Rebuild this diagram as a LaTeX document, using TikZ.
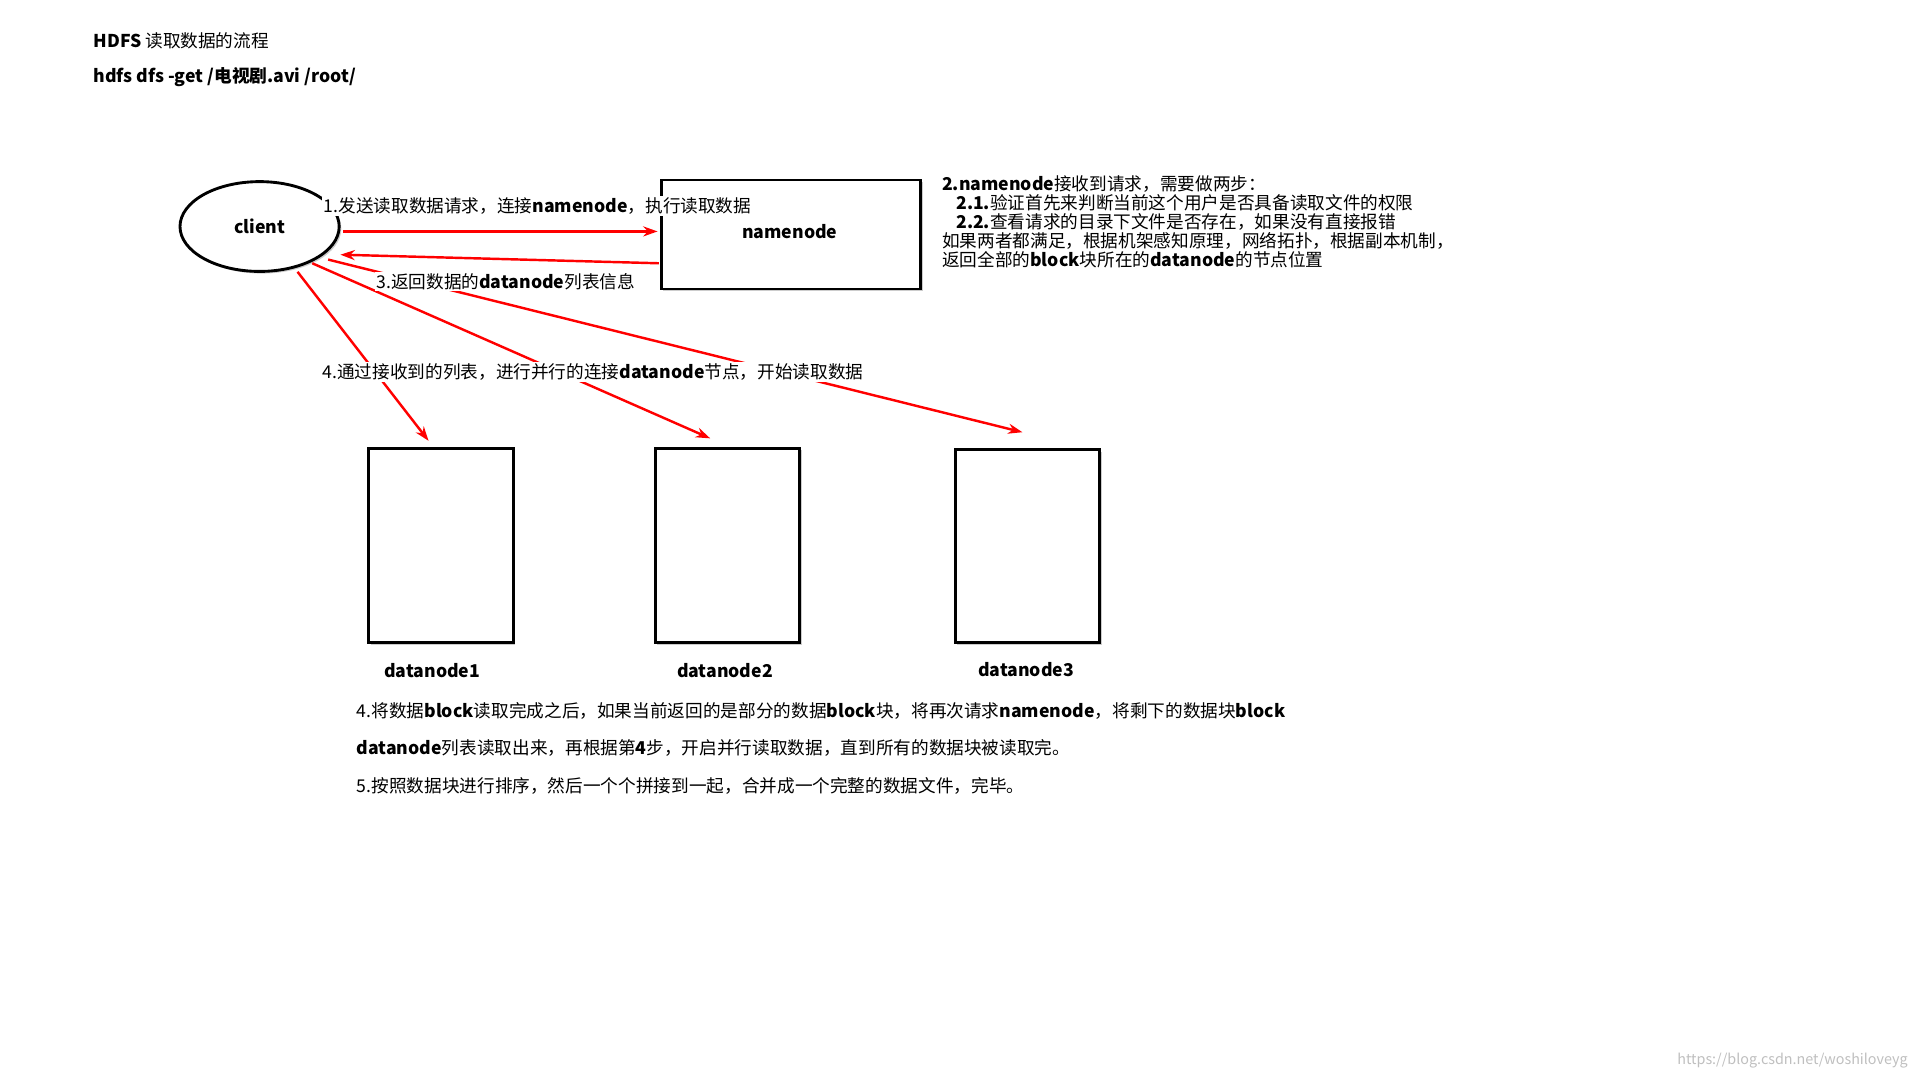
\documentclass[tikz,border=0pt]{standalone}
\usepackage{fontspec}
\setmainfont{Noto Sans CJK SC}
\usetikzlibrary{shadows,arrows.meta,shapes.geometric}

\begin{document}
\begin{tikzpicture}[x=0.03cm, y=-0.03cm,
        every node/.style={font=\fontsize{12.3}{13.2}\selectfont},
        boxStyle/.style={draw=black, line width=2pt, fill=white,
            drop shadow={shadow xshift=1.5pt, shadow yshift=-1.5pt, opacity=0.4}},
        redEdge/.style={draw=red, line width=1.7pt, -{Stealth[length=10pt,width=7pt]}},
        textLabel/.style={anchor=west, inner sep=1pt, fill=white}]
    \useasboundingbox (0,0) rectangle (1568,880);
    % title
    \node[textLabel] (title) at (75,33) {\textbf{HDFS} 读取数据的流程};
    \node[textLabel] (cmd) at (75,63) {\textbf{hdfs dfs -get /电视剧.avi /root/}};
    % nodes
    \node[boxStyle, ellipse, minimum width=3.9cm, minimum height=2.2cm] (client) at (212,185) {\textbf{client}};
    \draw[boxStyle] (540,147) rectangle (752,236);
    \node (namenode) at (645,189) {\textbf{namenode}};
    \draw[boxStyle] (301,366) rectangle (419,525);
    \draw[boxStyle] (535,366) rectangle (653,525);
    \draw[boxStyle] (780,367) rectangle (898,525);
    \node (dn1) at (353,548) {\textbf{datanode1}};
    \node (dn2) at (592,548) {\textbf{datanode2}};
    \node (dn3) at (838,547) {\textbf{datanode3}};
    \coordinate (nnIn) at (537,189);
    \coordinate (nnOut) at (538,215);
    \coordinate (dnA) at (350,360);
    \coordinate (dnB) at (580,358);
    \coordinate (dnC) at (835,353);
    % connectors
    \draw[redEdge] (280,189) -- (nnIn);
    \draw[redEdge] (nnOut) -- (278,208);
    \draw[redEdge] (243,222) -- (dnA);
    \draw[redEdge] (255,215) -- (dnB);
    \draw[redEdge] (268,212) -- (dnC);
    % labels
    \node[textLabel] (l1) at (263,168) {1.发送读取数据请求，连接\textbf{namenode}，执行读取数据};
    \node[textLabel] (l3) at (306,230) {3.返回数据的\textbf{datanode}列表信息};
    \node[textLabel] (l4) at (262,304) {4.通过接收到的列表，进行并行的连接\textbf{datanode}节点，开始读取数据};
    \node[textLabel, anchor=north west, align=left, fill=none] (l2) at (768,142) {\textbf{2.namenode}接收到请求，需要做两步：\\
        \hspace{0.8em}\textbf{2.1.}验证首先来判断当前这个用户是否具备读取文件的权限\\
        \hspace{0.8em}\textbf{2.2.}查看请求的目录下文件是否存在，如果没有直接报错\\
        如果两者都满足，根据机架感知原理，网络拓扑，根据副本机制，\\
        返回全部的\textbf{block}块所在的\textbf{datanode}的节点位置};
    \node[textLabel] (s1) at (290,581) {4.将数据\textbf{block}读取完成之后，如果当前返回的是部分的数据\textbf{block}块，将再次请求\textbf{namenode}，将剩下的数据块\textbf{block}};
    \node[textLabel] (s2) at (290,611) {\textbf{datanode}列表读取出来，再根据第\textbf{4}步，开启并行读取数据，直到所有的数据块被读取完。};
    \node[textLabel] (s3) at (290,642) {5.按照数据块进行排序，然后一个个拼接到一起，合并成一个完整的数据文件，完毕。};
    \node[anchor=east, text=gray!50, font=\fontsize{10}{12}\selectfont] (mark) at (1562,866) {https://blog.csdn.net/woshiloveyg};
\end{tikzpicture}
\end{document}
